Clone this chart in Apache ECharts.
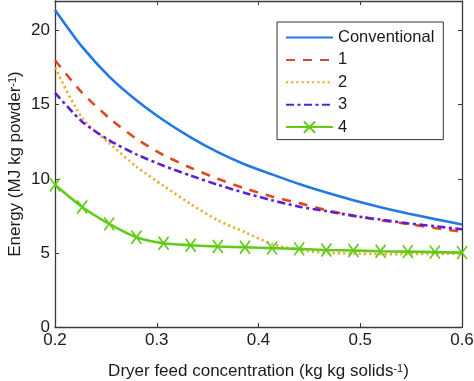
<!DOCTYPE html>
<html>
<head>
<meta charset="utf-8">
<script src="https://cdn.jsdelivr.net/npm/echarts@6/dist/echarts.min.js"></script>
<style>
html,body{margin:0;padding:0;background:#fff;}
#chart{width:474px;height:381px;}
</style>
</head>
<body>
<div id="chart"></div>
<script>
// Dryer feed concentration (kg kg solids^-1)
const concentration = [0.2, 0.2267, 0.2533, 0.28, 0.3067, 0.3333, 0.36, 0.3867, 0.4133, 0.44, 0.4667, 0.4933, 0.52, 0.5467, 0.5733, 0.6];
// Energy (MJ kg powder^-1)
const conventional = [21.4, 18.9, 16.9, 15.3, 13.95, 12.8, 11.8, 10.97, 10.3, 9.65, 9.07, 8.55, 8.08, 7.66, 7.28, 6.92];
const option1 = [18.0, 15.8, 14.1, 12.7, 11.6, 10.75, 10.0, 9.35, 8.8, 8.36, 7.88, 7.52, 7.2, 6.95, 6.68, 6.42];
const option2 = [17.5, 14.1, 12.4, 10.82, 9.52, 8.3, 7.2, 6.4, 5.6, 5.2, 5.0, 4.95, 4.92, 4.92, 4.93, 4.95];
const option3 = [15.8, 13.85, 12.6, 11.65, 10.88, 10.22, 9.6, 9.05, 8.55, 8.12, 7.82, 7.5, 7.25, 7.0, 6.8, 6.6];
const option4 = [9.6, 8.1, 6.96, 6.06, 5.65, 5.52, 5.43, 5.38, 5.32, 5.27, 5.2, 5.16, 5.11, 5.09, 5.05, 5.02];
const seriesNames = ['Conventional', '1', '2', '3', '4'];
const xTicks = [0.2, 0.3, 0.4, 0.5, 0.6];
const yTicks = [0, 5, 10, 15, 20];

function pairs(ys) { return concentration.map((x, i) => [x, ys[i]]); }

const FONT = 'Liberation Sans, Arial, Helvetica, sans-serif';
const AX = '#3a3a3a';
const TXT = '#1a1a1a';
const XMARK = 'path://M0,0L10,12M10,0L0,12';

const chart = echarts.init(document.getElementById('chart'), null, {renderer: 'canvas'});

const baseX = {
  type: 'value', min: xTicks[0], max: xTicks[xTicks.length - 1], interval: 0.1,
  axisLine: {show: true, onZero: false, lineStyle: {color: AX, width: 1.3}},
  axisTick: {show: true, inside: true, length: 4, lineStyle: {color: AX, width: 1}},
  splitLine: {show: false}
};
const baseY = {
  type: 'value', min: yTicks[0], max: 22, interval: 5,
  axisLine: {show: true, onZero: false, lineStyle: {color: AX, width: 1.3}},
  axisTick: {show: true, inside: true, length: 4, lineStyle: {color: AX, width: 1}},
  splitLine: {show: false}
};

const lineCommon = {type: 'line', smooth: 0.25, animation: false, z: 3};
const hiddenMark = {opacity: 0};

chart.setOption({
  animation: false,
  backgroundColor: '#fff',
  textStyle: {fontFamily: FONT},
  grid: {left: 55, right: 12, top: 1, bottom: 54, containLabel: false, outerBoundsMode: 'none'},
  xAxis: [
    Object.assign({}, baseX, {
      position: 'bottom',
      axisLabel: {show: true, margin: 5, fontSize: 17, color: TXT, fontFamily: FONT,
        formatter: v => v.toFixed(1)},
      name: 'Dryer feed concentration (kg kg solids{s|-1})',
      nameLocation: 'middle', nameGap: 36,
      nameTextStyle: {fontSize: 17, color: TXT, fontFamily: FONT,
        rich: {s: {fontSize: 11, verticalAlign: 'top', color: TXT, fontFamily: FONT}}}
    }),
    Object.assign({}, baseX, {position: 'top', axisLabel: {show: false}})
  ],
  yAxis: [
    Object.assign({}, baseY, {
      position: 'left',
      axisLabel: {show: true, margin: 5, fontSize: 17, color: TXT, fontFamily: FONT, showMaxLabel: false},
      name: 'Energy (MJ kg powder{s|-1})',
      nameLocation: 'middle', nameGap: 31, nameRotate: 90, nameMoveOverlap: false,
      nameTextStyle: {fontSize: 17, color: TXT, fontFamily: FONT,
        rich: {s: {fontSize: 11, verticalAlign: 'top', color: TXT, fontFamily: FONT}}}
    }),
    Object.assign({}, baseY, {position: 'right', axisLabel: {show: false}})
  ],
  legend: {
    show: true, orient: 'vertical', left: 277, top: 22,
    padding: [7, 9, 4, 8], itemGap: 5.4, itemWidth: 47, itemHeight: 14,
    borderColor: '#333', borderWidth: 1, backgroundColor: '#fff',
    textStyle: {fontSize: 16.5, color: TXT, fontFamily: FONT},
    data: [
      {name: seriesNames[0], itemStyle: hiddenMark},
      {name: seriesNames[1], itemStyle: hiddenMark},
      {name: seriesNames[2], itemStyle: hiddenMark},
      {name: seriesNames[3], itemStyle: hiddenMark},
      {name: seriesNames[4]}
    ]
  },
  series: [
    Object.assign({}, lineCommon, {
      name: seriesNames[0], data: pairs(conventional), symbol: 'none',
      itemStyle: {color: '#2079e4'}, lineStyle: {color: '#2079e4', width: 2.6}
    }),
    Object.assign({}, lineCommon, {
      name: seriesNames[1], data: pairs(option1), symbol: 'none',
      itemStyle: {color: '#dd4a1e'}, lineStyle: {color: '#dd4a1e', width: 2.6, type: [9, 8]}
    }),
    Object.assign({}, lineCommon, {
      name: seriesNames[2], data: pairs(option2), symbol: 'none',
      itemStyle: {color: '#e6ad2e'}, lineStyle: {color: '#e6ad2e', width: 2.6, type: [2.2, 3]}
    }),
    Object.assign({}, lineCommon, {
      name: seriesNames[3], data: pairs(option3), symbol: 'none',
      itemStyle: {color: '#5a20d6'}, lineStyle: {color: '#5a20d6', width: 2.6, type: [8, 3.5, 3, 3.5]}
    }),
    Object.assign({}, lineCommon, {
      name: seriesNames[4], data: pairs(option4),
      symbol: XMARK, symbolSize: [10, 13], showSymbol: true,
      itemStyle: {color: '#62cb1a', borderColor: '#62cb1a', borderWidth: 1.7},
      lineStyle: {color: '#62cb1a', width: 2.6}
    })
  ]
});
</script>
</body>
</html>
